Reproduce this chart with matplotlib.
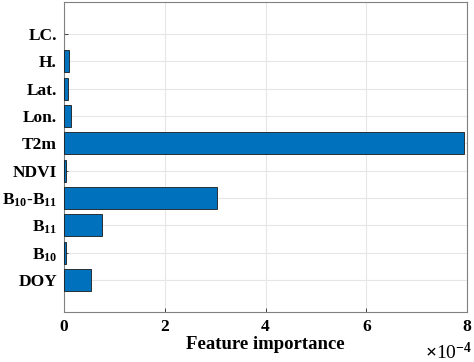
import matplotlib
matplotlib.use("Agg")
import matplotlib.pyplot as plt

plt.rcParams["font.family"] = ["Liberation Serif", "DejaVu Serif"]
plt.rcParams["mathtext.fontset"] = "custom"
plt.rcParams["mathtext.rm"] = "Liberation Serif:bold"
plt.rcParams["mathtext.bf"] = "Liberation Serif:bold"
plt.rcParams["mathtext.it"] = "Liberation Serif:bold"

# bottom to top, as in MATLAB barh
features = ["DOY", r"B$_{10}$", r"B$_{11}$", r"B$_{10}$-B$_{11}$", "NDVI",
            "T2m", "Lon.", "Lat.", "H.", "LC."]
importance_e4 = [0.53, 0.04, 0.75, 3.03, 0.03, 7.94, 0.14, 0.08, 0.10, 0.0]

fig = plt.figure(figsize=(4.74, 3.62), dpi=100)
ax = fig.add_axes([64 / 474, 50 / 362, 403 / 474, 310 / 362])

pos = list(range(1, len(features) + 1))
edges = ["#1a1a1a" if v > 0 else "none" for v in importance_e4]
ax.barh(pos, importance_e4, height=0.8, color="#0072BD",
        edgecolor=edges, linewidth=0.6, zorder=3)

ax.set_xlim(0, 8)
ax.set_ylim(-0.17, 11.17)
ax.set_xticks([0, 2, 4, 6, 8])
ax.set_yticks(pos)
ax.set_yticklabels(features)

ax.grid(True, color="#e6e6e6", linewidth=0.8, zorder=0)
ax.set_axisbelow(True)
ax.tick_params(direction="in", length=3, width=0.6, color="#262626",
               labelsize=12.5, pad=5)
for lab in ax.get_xticklabels() + ax.get_yticklabels():
    lab.set_fontweight("bold")
for sp in ax.spines.values():
    sp.set_color("#808080")
    sp.set_linewidth(0.8)

ax.set_xlabel("Feature importance", fontsize=13.5, fontweight="bold",
              labelpad=1)
fig.text(0.995, -0.004, r"$\times$10$^{-4}$", fontsize=14, ha="right",
         va="bottom", family=["Liberation Serif", "DejaVu Serif"])

fig.savefig("out.png", dpi=100)
